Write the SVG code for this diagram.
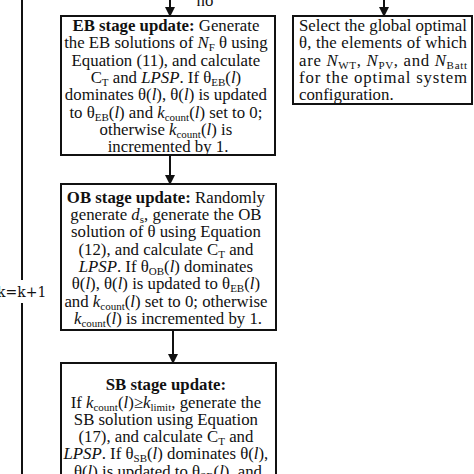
<svg xmlns="http://www.w3.org/2000/svg" width="474" height="474" viewBox="0 0 474 474">
<style>
text{font-family:"Liberation Serif","Times New Roman",serif;font-size:16.8px;fill:#111}
.b{font-weight:bold}
.i{font-style:italic}
.s{font-size:11px}
.box{fill:#fff;stroke:#111;stroke-width:2}
.ln{stroke:#111;stroke-width:2;fill:none}
.k{font-family:"DejaVu Serif",serif;font-size:14px}
</style>
<defs>
<marker id="ah" markerWidth="10" markerHeight="10" refX="9" refY="5" orient="auto" markerUnits="userSpaceOnUse">
<path d="M0,0 L10,5 L0,10 Z" fill="#111"/>
</marker>
</defs>
<rect width="474" height="474" fill="#fff"/>
<g id="connectors">
<line class="ln" x1="170" y1="0" x2="170" y2="16" marker-end="url(#ah)"/>
<line class="ln" x1="384" y1="0" x2="384" y2="16" marker-end="url(#ah)"/>
<line class="ln" x1="170" y1="155" x2="170" y2="184" marker-end="url(#ah)"/>
<line class="ln" x1="173" y1="330" x2="173" y2="363" marker-end="url(#ah)"/>
<line class="ln" x1="22" y1="0" x2="22" y2="280"/>
<line class="ln" x1="22" y1="303" x2="22" y2="474"/>
<text x="205" y="6" text-anchor="middle">no</text>
<text class="k" x="-3" y="297">k=k+1</text>
</g>
<g id="eb">
<rect class="box" x="61" y="16" width="214" height="139"/>
<text text-anchor="middle">
<tspan x="168" y="31"><tspan class="b">EB stage update:</tspan> Generate</tspan>
<tspan x="168" y="48">the EB solutions of <tspan class="i">N</tspan><tspan class="s" dy="3">F</tspan><tspan dy="-3"> θ using</tspan></tspan>
<tspan x="168" y="66">Equation (11), and calculate</tspan>
<tspan x="168" y="83">C<tspan class="s" dy="3">T</tspan><tspan dy="-3"> and </tspan><tspan class="i">LPSP</tspan>. If θ<tspan class="s" dy="3">EB</tspan><tspan dy="-3">(</tspan><tspan class="i">l</tspan>)</tspan>
<tspan x="168" y="100">dominates θ(<tspan class="i">l</tspan>), θ(<tspan class="i">l</tspan>) is updated</tspan>
<tspan x="168" y="118">to θ<tspan class="s" dy="3">EB</tspan><tspan dy="-3">(</tspan><tspan class="i">l</tspan>) and <tspan class="i">k</tspan><tspan class="s" dy="3">count</tspan><tspan dy="-3">(</tspan><tspan class="i">l</tspan>) set to 0;</tspan>
<tspan x="168" y="135">otherwise <tspan class="i">k</tspan><tspan class="s" dy="3">count</tspan><tspan dy="-3">(</tspan><tspan class="i">l</tspan>) is</tspan>
<tspan x="168" y="152">incremented by 1.</tspan>
</text>
</g>
<g id="select">
<rect class="box" x="293" y="16" width="179" height="88"/>
<text>
<tspan x="299" y="31" textLength="168" lengthAdjust="spacing">Select the global optimal</tspan>
<tspan x="299" y="48" textLength="168" lengthAdjust="spacing">θ, the elements of which</tspan>
</text>
<text x="299" y="66" textLength="168" lengthAdjust="spacing">are <tspan class="i">N</tspan><tspan class="s" dy="3">WT</tspan><tspan dy="-3">, </tspan><tspan class="i">N</tspan><tspan class="s" dy="3">PV</tspan><tspan dy="-3">, and </tspan><tspan class="i">N</tspan><tspan class="s" dy="3">Batt</tspan></text>
<text><tspan x="299" y="83" textLength="168" lengthAdjust="spacing">for the optimal system</tspan>
<tspan x="299" y="100">configuration.</tspan></text>
</g>
<g id="ob">
<rect class="box" x="61" y="184" width="215" height="146"/>
<text text-anchor="middle">
<tspan x="168" y="203"><tspan class="b">OB stage update:</tspan> Randomly</tspan>
<tspan x="168" y="220">generate <tspan class="i">d</tspan><tspan class="s" dy="3">s</tspan><tspan dy="-3">, generate the OB</tspan></tspan>
<tspan x="168" y="237">solution of θ using Equation</tspan>
<tspan x="168" y="255">(12), and calculate C<tspan class="s" dy="3">T</tspan><tspan dy="-3"> and</tspan></tspan>
<tspan x="168" y="272"><tspan class="i">LPSP</tspan>. If θ<tspan class="s" dy="3">OB</tspan><tspan dy="-3">(</tspan><tspan class="i">l</tspan>) dominates</tspan>
<tspan x="168" y="289">θ(<tspan class="i">l</tspan>), θ(<tspan class="i">l</tspan>) is updated to θ<tspan class="s" dy="3">EB</tspan><tspan dy="-3">(</tspan><tspan class="i">l</tspan>)</tspan>
<tspan x="168" y="307">and <tspan class="i">k</tspan><tspan class="s" dy="3">count</tspan><tspan dy="-3">(</tspan><tspan class="i">l</tspan>) set to 0; otherwise</tspan>
<tspan x="168" y="324"><tspan class="i">k</tspan><tspan class="s" dy="3">count</tspan><tspan dy="-3">(</tspan><tspan class="i">l</tspan>) is incremented by 1.</tspan>
</text>
</g>
<g id="sb">
<rect class="box" x="61" y="363" width="215" height="130"/>
<text text-anchor="middle">
<tspan x="168" y="390" class="b">SB stage update:</tspan>
<tspan x="168" y="408">If <tspan class="i">k</tspan><tspan class="s" dy="3">count</tspan><tspan dy="-3">(</tspan><tspan class="i">l</tspan>)≥<tspan class="i">k</tspan><tspan class="s" dy="3">limit</tspan><tspan dy="-3">, generate the</tspan></tspan>
<tspan x="168" y="425">SB solution using Equation</tspan>
<tspan x="168" y="442">(17), and calculate C<tspan class="s" dy="3">T</tspan><tspan dy="-3"> and</tspan></tspan>
<tspan x="168" y="459"><tspan class="i">LPSP</tspan>. If θ<tspan class="s" dy="3">SB</tspan><tspan dy="-3">(</tspan><tspan class="i">l</tspan>) dominates θ(<tspan class="i">l</tspan>),</tspan>
<tspan x="168" y="477">θ(<tspan class="i">l</tspan>) is updated to θ<tspan class="s" dy="3">SB</tspan><tspan dy="-3">(</tspan><tspan class="i">l</tspan>), and</tspan>
</text>
</g>
</svg>
